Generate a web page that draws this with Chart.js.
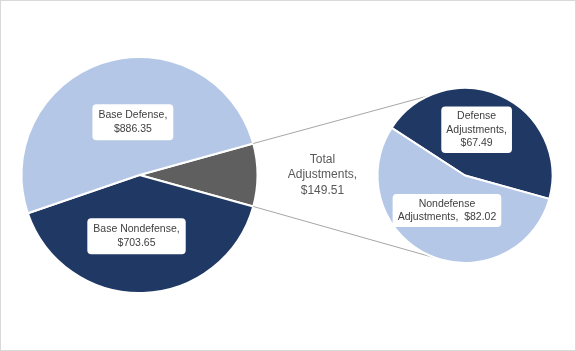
<!DOCTYPE html>
<html>
<head>
<meta charset="utf-8">
<script src="https://cdn.jsdelivr.net/npm/chart.js@4"></script>
<style>
  html, body { margin: 0; padding: 0; background: #fff; }
  #wrap { position: relative; width: 576px; height: 351px; }
  #wrap canvas { position: absolute; left: 0; top: 0; }
  #frame { position: absolute; left: 0; top: 0; width: 576px; height: 351px; box-sizing: border-box; border: 1px solid #d9d9d9; pointer-events: none; }
</style>
</head>
<body>
<div id="wrap">
  <canvas id="main" width="576" height="351"></canvas>
  <canvas id="sub" width="576" height="351"></canvas>
  <div id="frame"></div>
</div>
<script>
// main pie: the gray slice is broken out into the small pie
const mainCategories = ['Total Adjustments', 'Base Nondefense', 'Base Defense'];
const mainValues = [149.51, 703.65, 886.35];
const mainColors = ['#5f5f5f', '#203864', '#b4c7e7'];

// secondary pie
const subCategories = ['Defense Adjustments', 'Nondefense Adjustments'];
const subValues = [67.49, 82.02];
const subColors = ['#203864', '#b4c7e7'];

const money = v => '$' + v.toFixed(2);

const mainLabelLines = [
  ['Total', 'Adjustments,', money(mainValues[0])],
  [mainCategories[1] + ',', money(mainValues[1])],
  [mainCategories[2] + ',', money(mainValues[2])]
];
const subLabelLines = [
  ['Defense', 'Adjustments,', money(subValues[0])],
  ['Nondefense', 'Adjustments,  ' + money(subValues[1])]
];

const FONT = '"Liberation Sans", Arial, sans-serif';

function roundRect(ctx, x, y, w, h, r) {
  ctx.beginPath();
  ctx.moveTo(x + r, y);
  ctx.lineTo(x + w - r, y);
  ctx.quadraticCurveTo(x + w, y, x + w, y + r);
  ctx.lineTo(x + w, y + h - r);
  ctx.quadraticCurveTo(x + w, y + h, x + w - r, y + h);
  ctx.lineTo(x + r, y + h);
  ctx.quadraticCurveTo(x, y + h, x, y + h - r);
  ctx.lineTo(x, y + r);
  ctx.quadraticCurveTo(x, y, x + r, y);
  ctx.closePath();
}

// labels placed in polar terms around each slice's middle angle
const sliceLabels = {
  id: 'sliceLabels',
  afterDatasetsDraw(chart, args, opts) {
    const ctx = chart.ctx;
    const arcs = chart.getDatasetMeta(0).data;
    ctx.save();
    arcs.forEach((arc, i) => {
      const lines = opts.lines[i];
      const p = opts.pos[i];
      if (!lines || !p) return;
      const mid = (arc.startAngle + arc.endAngle) / 2 + p.da * Math.PI / 180;
      const cx = arc.x + Math.cos(mid) * arc.outerRadius * p.f;
      const cy = arc.y + Math.sin(mid) * arc.outerRadius * p.f;
      const size = p.size || opts.size;
      const lh = p.lh || opts.lineHeight;
      ctx.font = size + 'px ' + FONT;
      let w = 0;
      lines.forEach(l => { w = Math.max(w, ctx.measureText(l).width); });
      const h = lines.length * lh;
      if (p.box !== false) {
        ctx.fillStyle = '#ffffff';
        roundRect(ctx, cx - w / 2 - opts.padX, cy - h / 2 - opts.padY, w + opts.padX * 2, h + opts.padY * 2, 4);
        ctx.fill();
      }
      ctx.fillStyle = p.color || '#404040';
      ctx.textAlign = 'center';
      ctx.textBaseline = 'middle';
      lines.forEach((l, k) => {
        ctx.fillText(l, cx, cy - h / 2 + lh * (k + 0.5));
      });
    });
    ctx.restore();
  }
};

const mainDeg = mainValues[0] / mainValues.reduce((a, b) => a + b, 0) * 360;

const mainChart = new Chart(document.getElementById('main'), {
  type: 'pie',
  data: {
    labels: mainCategories,
    datasets: [{
      data: mainValues,
      backgroundColor: mainColors,
      borderColor: '#ffffff',
      borderWidth: 2
    }]
  },
  options: {
    responsive: false,
    animation: false,
    rotation: 90 - mainDeg / 2,
    layout: { padding: { left: 20, right: 317, top: 56, bottom: 57 } },
    plugins: {
      legend: { display: false },
      tooltip: { enabled: false },
      sliceLabels: {
        lines: mainLabelLines,
        size: 10.5,
        lineHeight: 14,
        padX: 6,
        padY: 4,
        pos: [
          { f: 1.55, da: 0, box: false, size: 12, lh: 15.5, color: '#595959' },
          { f: 0.52, da: 4.5 },
          { f: 0.45, da: 10 }
        ]
      }
    }
  },
  plugins: [sliceLabels]
});

// connector lines from the broken-out slice to the secondary pie
const connectors = {
  id: 'connectors',
  beforeDatasetsDraw(chart) {
    const gray = mainChart.getDatasetMeta(0).data[0];
    const sub = chart.getDatasetMeta(0).data[0];
    const R = gray.outerRadius;
    const r = sub.outerRadius;
    const a1 = -114 * Math.PI / 180, a2 = 108 * Math.PI / 180;
    const ctx = chart.ctx;
    ctx.save();
    ctx.strokeStyle = '#a6a6a6';
    ctx.lineWidth = 1;
    ctx.beginPath();
    ctx.moveTo(gray.x + Math.cos(gray.startAngle) * R, gray.y + Math.sin(gray.startAngle) * R);
    ctx.lineTo(sub.x + Math.cos(a1) * r, sub.y + Math.sin(a1) * r);
    ctx.moveTo(gray.x + Math.cos(gray.endAngle) * R, gray.y + Math.sin(gray.endAngle) * R);
    ctx.lineTo(sub.x + Math.cos(a2) * r, sub.y + Math.sin(a2) * r);
    ctx.stroke();
    ctx.restore();
  }
};

new Chart(document.getElementById('sub'), {
  type: 'pie',
  data: {
    labels: subCategories,
    datasets: [{
      data: subValues,
      backgroundColor: subColors,
      borderColor: '#ffffff',
      borderWidth: 2
    }]
  },
  options: {
    responsive: false,
    animation: false,
    rotation: -57,
    layout: { padding: { left: 376, right: 22, top: 87, bottom: 87 } },
    plugins: {
      legend: { display: false },
      tooltip: { enabled: false },
      sliceLabels: {
        lines: subLabelLines,
        size: 10.5,
        lineHeight: 13.5,
        padX: 5,
        padY: 3,
        pos: [
          { f: 0.54, da: -10 },
          { f: 0.45, da: 3 }
        ]
      }
    }
  },
  plugins: [connectors, sliceLabels]
});
</script>
</body>
</html>
